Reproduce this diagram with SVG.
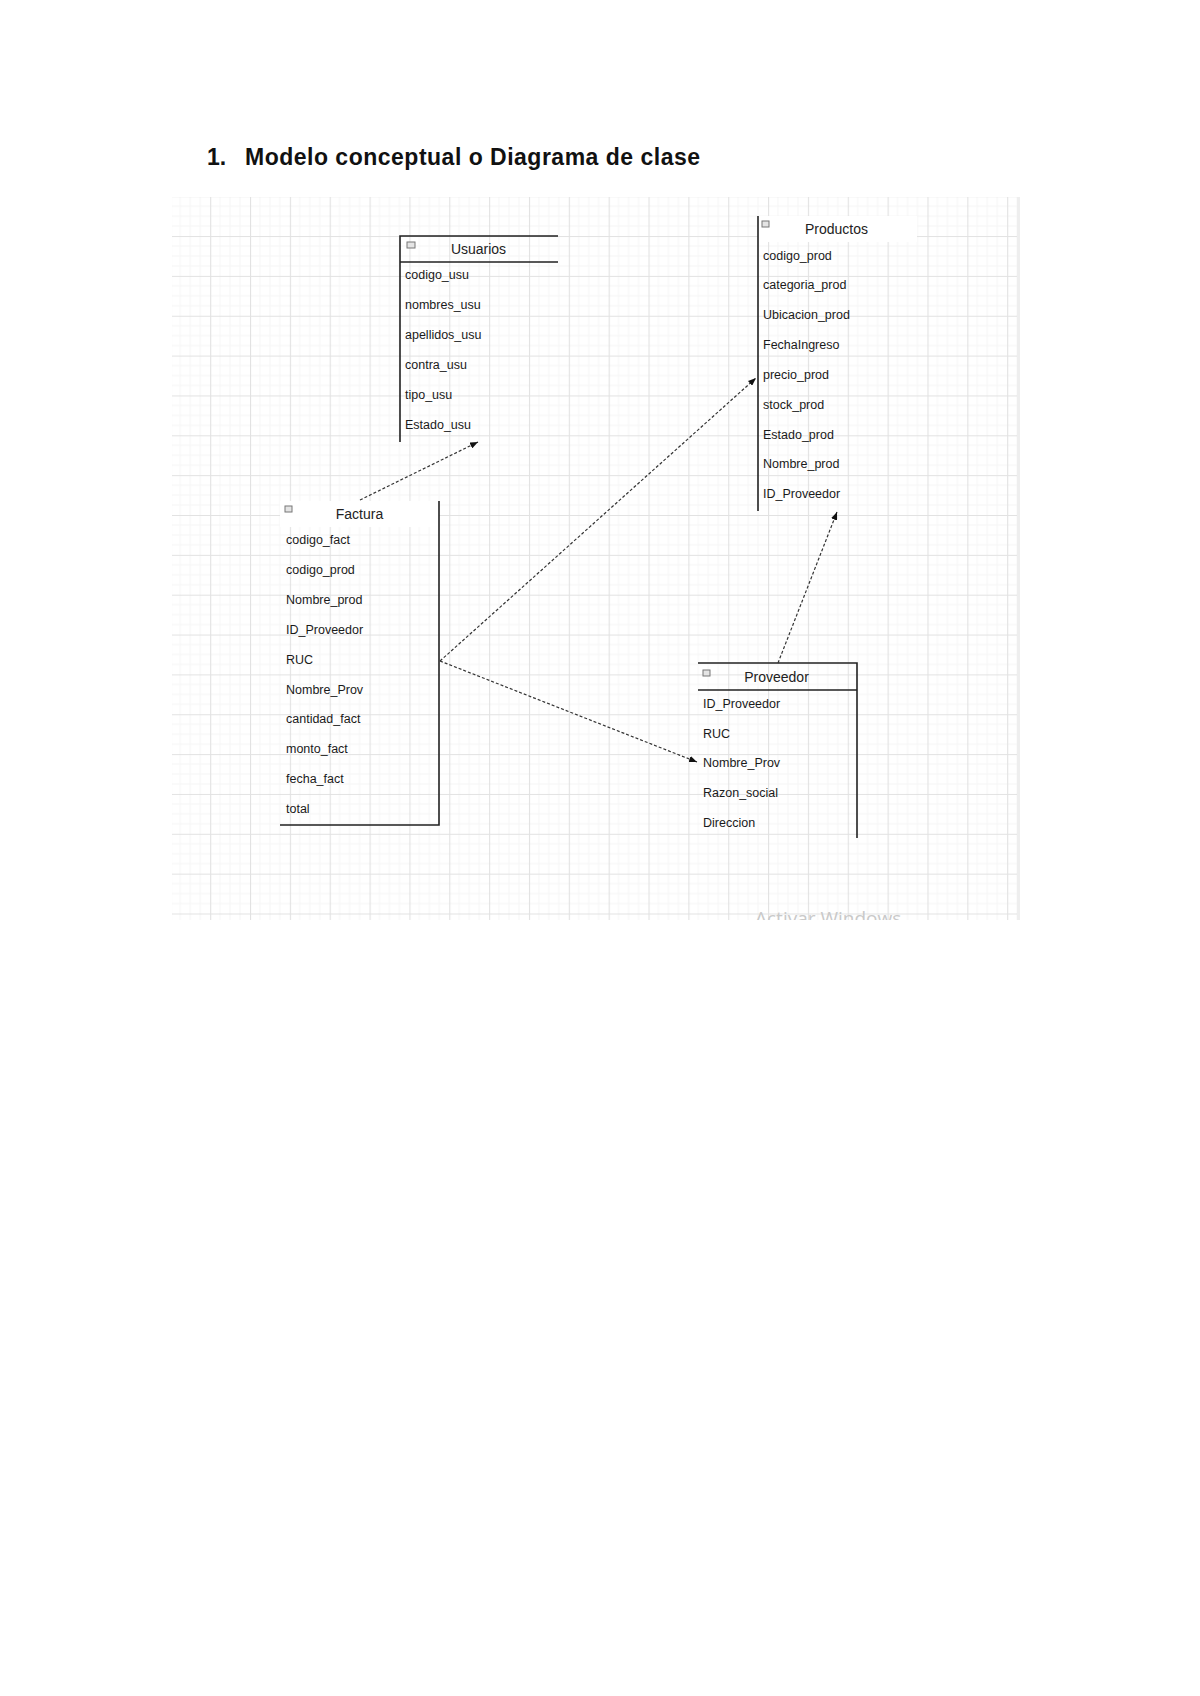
<svg xmlns="http://www.w3.org/2000/svg" width="1200" height="1696" viewBox="0 0 1200 1696">
  <style>
    .title { font-family: "Liberation Sans", Arial, sans-serif; font-weight: bold; font-size: 23px; fill: #111; }
    .hdr { font-family: "Liberation Sans", Arial, sans-serif; font-size: 14px; fill: #222; text-anchor: middle; }
    .fld { font-family: "Liberation Sans", Arial, sans-serif; font-size: 12.5px; fill: #1a1a1a; }
    .box { stroke: #222; stroke-width: 1.6; fill: none; }
    .icon { stroke: #777; stroke-width: 1; fill: #e4e4e4; }
    .conn { stroke: #333; stroke-width: 1.2; fill: none; stroke-dasharray: 3 2; marker-end: url(#arr); }
    .wm { font-family: "Open Sans", "Noto Sans", sans-serif; font-size: 19px; fill: #c9c9c9; }
  </style>
  <defs>
    <pattern id="grid" width="39.85" height="39.85" patternUnits="userSpaceOnUse" x="170.3" y="196.2">
      <path d="M9.96 0V39.85M19.93 0V39.85M29.89 0V39.85M0 9.96H39.85M0 19.93H39.85M0 29.89H39.85" stroke="#f6f6f6" stroke-width="1" fill="none"/>
      <path d="M0.5 0V39.85M0 0.5H39.85" stroke="#e2e2e2" stroke-width="1.2" fill="none"/>
    </pattern>
    <marker id="arr" viewBox="0 0 10 8" refX="10" refY="4" markerWidth="8" markerHeight="6.4" markerUnits="userSpaceOnUse" orient="auto">
      <path d="M0 0L10 4L0 8Z" fill="#111"/>
    </marker>
    <clipPath id="gridclip"><rect x="172" y="197" width="846" height="723"/></clipPath>
  </defs>

  <rect width="1200" height="1696" fill="#fff"/>

  <text class="title" x="207" y="165">1.</text>
  <text class="title" x="245" y="165" textLength="455" lengthAdjust="spacing">Modelo conceptual o Diagrama de clase</text>

  <g id="canvas">
    <rect x="172" y="197" width="846" height="723" fill="url(#grid)"/>
    <rect x="1017" y="197" width="3" height="723" fill="#eeeeee"/>
    <text class="wm" x="755" y="925" clip-path="url(#gridclip)">Activar Windows</text>
  </g>

  <g id="usuarios">
    <path class="box" d="M400 442V236H558M400 262H558"/>
    <rect class="icon" x="407" y="242" width="8" height="6"/>
    <text class="hdr" x="478.5" y="254" font-size="13.5">Usuarios</text>
    <text class="fld" x="405" y="279">codigo_usu</text>
    <text class="fld" x="405" y="309">nombres_usu</text>
    <text class="fld" x="405" y="339">apellidos_usu</text>
    <text class="fld" x="405" y="369">contra_usu</text>
    <text class="fld" x="405" y="399">tipo_usu</text>
    <text class="fld" x="405" y="429">Estado_usu</text>
  </g>

  <g id="productos">
    <rect x="758" y="216" width="159" height="26" fill="#fff"/>
    <path class="box" d="M758 216V511"/>
    <rect class="icon" x="762" y="221" width="7" height="6"/>
    <text class="hdr" x="836.5" y="234">Productos</text>
    <text class="fld" x="763" y="260">codigo_prod</text>
    <text class="fld" x="763" y="289">categoria_prod</text>
    <text class="fld" x="763" y="319">Ubicacion_prod</text>
    <text class="fld" x="763" y="349">FechaIngreso</text>
    <text class="fld" x="763" y="379">precio_prod</text>
    <text class="fld" x="763" y="409">stock_prod</text>
    <text class="fld" x="763" y="439">Estado_prod</text>
    <text class="fld" x="763" y="468">Nombre_prod</text>
    <text class="fld" x="763" y="498">ID_Proveedor</text>
  </g>

  <g id="factura">
    <rect x="280" y="501" width="159" height="26" fill="#fff"/>
    <path class="box" d="M439 501V825H280"/>
    <rect class="icon" x="285" y="506" width="7" height="6"/>
    <text class="hdr" x="359.5" y="519">Factura</text>
    <text class="fld" x="286" y="544">codigo_fact</text>
    <text class="fld" x="286" y="574">codigo_prod</text>
    <text class="fld" x="286" y="604">Nombre_prod</text>
    <text class="fld" x="286" y="634">ID_Proveedor</text>
    <text class="fld" x="286" y="664">RUC</text>
    <text class="fld" x="286" y="694">Nombre_Prov</text>
    <text class="fld" x="286" y="723">cantidad_fact</text>
    <text class="fld" x="286" y="753">monto_fact</text>
    <text class="fld" x="286" y="783">fecha_fact</text>
    <text class="fld" x="286" y="813">total</text>
  </g>

  <g id="proveedor">
    <path class="box" d="M698 663H857V838M698 690H857"/>
    <rect class="icon" x="703" y="670" width="7" height="6"/>
    <text class="hdr" x="776.5" y="682">Proveedor</text>
    <text class="fld" x="703" y="708">ID_Proveedor</text>
    <text class="fld" x="703" y="738">RUC</text>
    <text class="fld" x="703" y="767">Nombre_Prov</text>
    <text class="fld" x="703" y="797">Razon_social</text>
    <text class="fld" x="703" y="827">Direccion</text>
  </g>

  <g id="connectors">
    <line class="conn" x1="360" y1="500" x2="478" y2="442"/>
    <line class="conn" x1="440" y1="661" x2="756" y2="378"/>
    <line class="conn" x1="440" y1="661" x2="697" y2="762"/>
    <line class="conn" x1="778" y1="663" x2="837" y2="512"/>
  </g>
</svg>
